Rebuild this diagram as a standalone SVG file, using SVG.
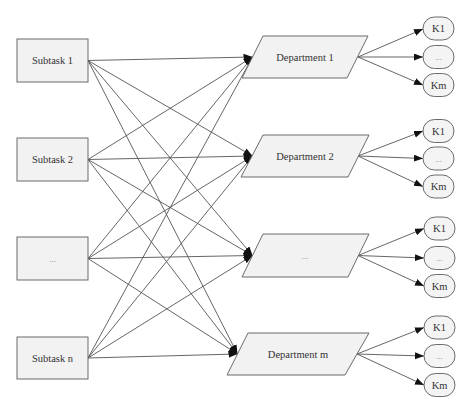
<svg xmlns="http://www.w3.org/2000/svg" width="474" height="414" viewBox="0 0 474 414">
<defs>
<style>
.box{fill:#f2f2f2;stroke:#6b6b6b;stroke-width:1}
.k{fill:#f4f4f4;stroke:#6b6b6b;stroke-width:1}
.t{font-family:"Liberation Serif","Times New Roman",serif;font-size:10.5px;fill:#333;text-anchor:middle;dominant-baseline:central}
.d{font-family:"Liberation Serif","Times New Roman",serif;font-size:9px;fill:#888;text-anchor:middle;dominant-baseline:central}
.c line{stroke:#555;stroke-width:0.9;marker-end:url(#ah)}
</style>
<marker id="ah" markerUnits="userSpaceOnUse" markerWidth="10" markerHeight="8" refX="9" refY="3.5" orient="auto">
<path d="M0,0 L9,3.5 L0,7 Z" fill="#111"/>
</marker>
</defs>
<rect width="474" height="414" fill="#fff"/>
<g id="connectors" class="c">
<line x1="88" y1="60.5" x2="252.5" y2="57"/>
<line x1="88" y1="60.5" x2="252.5" y2="156"/>
<line x1="88" y1="60.5" x2="252.5" y2="255.5"/>
<line x1="88" y1="60.5" x2="237.5" y2="354"/>
<line x1="88" y1="159.5" x2="252.5" y2="57"/>
<line x1="88" y1="159.5" x2="252.5" y2="156"/>
<line x1="88" y1="159.5" x2="252.5" y2="255.5"/>
<line x1="88" y1="159.5" x2="237.5" y2="354"/>
<line x1="88" y1="258.5" x2="252.5" y2="57"/>
<line x1="88" y1="258.5" x2="252.5" y2="156"/>
<line x1="88" y1="258.5" x2="252.5" y2="255.5"/>
<line x1="88" y1="258.5" x2="237.5" y2="354"/>
<line x1="88" y1="358" x2="252.5" y2="57"/>
<line x1="88" y1="358" x2="252.5" y2="156"/>
<line x1="88" y1="358" x2="252.5" y2="255.5"/>
<line x1="88" y1="358" x2="237.5" y2="354"/>
<line x1="358" y1="57" x2="423" y2="29"/>
<line x1="358" y1="57" x2="423" y2="57"/>
<line x1="358" y1="57" x2="423" y2="85"/>
<line x1="358" y1="156" x2="423" y2="131"/>
<line x1="358" y1="156" x2="423" y2="158.5"/>
<line x1="358" y1="156" x2="423" y2="186.5"/>
<line x1="358" y1="255.5" x2="424" y2="228.5"/>
<line x1="358" y1="255.5" x2="424" y2="258"/>
<line x1="358" y1="255.5" x2="424" y2="286"/>
<line x1="357" y1="354" x2="424" y2="327.5"/>
<line x1="357" y1="354" x2="424" y2="356"/>
<line x1="357" y1="354" x2="424" y2="385"/>
</g>
<g id="subtask1"><rect class="box" x="17" y="39" width="71" height="43"/><text class="t" x="52.5" y="60.5">Subtask 1</text></g>
<g id="subtask2"><rect class="box" x="17" y="138" width="71" height="43"/><text class="t" x="52.5" y="159.5">Subtask 2</text></g>
<g id="subtask3"><rect class="box" x="17" y="237" width="71" height="43"/><text class="d" x="52.5" y="258.5">...</text></g>
<g id="subtaskn"><rect class="box" x="17" y="337" width="71" height="42"/><text class="t" x="52.5" y="358">Subtask n</text></g>
<g id="dept1"><polygon class="box" points="263,36 368,36 347,78 242,78"/><text class="t" x="305" y="57">Department 1</text></g>
<g id="dept2"><polygon class="box" points="263,135 369,135 348,177 241,177"/><text class="t" x="305" y="156">Department 2</text></g>
<g id="dept3"><polygon class="box" points="263,234 369,234 348,277 242,277"/><text class="d" x="305" y="255.5">...</text></g>
<g id="deptm"><polygon class="box" points="248,333 369,333 345,375 227,375"/><text class="t" x="298" y="354">Department m</text></g>
<g id="d1k1"><rect class="k" x="423" y="17" width="31" height="23" rx="11.5"/><text class="t" x="438.5" y="28.5">K1</text></g>
<g id="d1k2"><rect class="k" x="423" y="45.5" width="31" height="23" rx="11.5"/><text class="d" x="438.5" y="57">...</text></g>
<g id="d1km"><rect class="k" x="423" y="73.5" width="31" height="23" rx="11.5"/><text class="t" x="438.5" y="85">Km</text></g>
<g id="d2k1"><rect class="k" x="423" y="119.5" width="31" height="23" rx="11.5"/><text class="t" x="438.5" y="131">K1</text></g>
<g id="d2k2"><rect class="k" x="423" y="147" width="31" height="23" rx="11.5"/><text class="d" x="438.5" y="158.5">...</text></g>
<g id="d2km"><rect class="k" x="423" y="175" width="31" height="23" rx="11.5"/><text class="t" x="438.5" y="186.5">Km</text></g>
<g id="d3k1"><rect class="k" x="424" y="217" width="31" height="23" rx="11.5"/><text class="t" x="439.5" y="228.5">K1</text></g>
<g id="d3k2"><rect class="k" x="424" y="246.5" width="31" height="23" rx="11.5"/><text class="d" x="439.5" y="258">...</text></g>
<g id="d3km"><rect class="k" x="424" y="274.5" width="31" height="23" rx="11.5"/><text class="t" x="439.5" y="286">Km</text></g>
<g id="dmk1"><rect class="k" x="424" y="316" width="31" height="23" rx="11.5"/><text class="t" x="439.5" y="327.5">K1</text></g>
<g id="dmk2"><rect class="k" x="424" y="344.5" width="31" height="23" rx="11.5"/><text class="d" x="439.5" y="356">...</text></g>
<g id="dmkm"><rect class="k" x="424" y="373.5" width="31" height="23" rx="11.5"/><text class="t" x="439.5" y="385">Km</text></g>
</svg>
